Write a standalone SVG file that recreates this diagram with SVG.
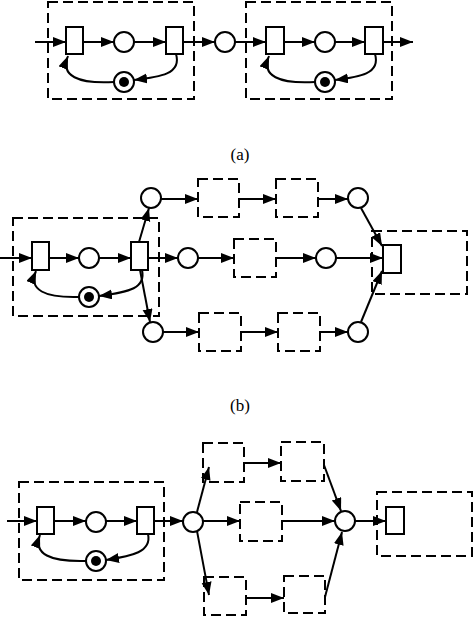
<svg xmlns="http://www.w3.org/2000/svg" width="474" height="617" viewBox="0 0 474 617">
<style>
.dash{fill:none;stroke:#000;stroke-width:2;stroke-dasharray:10 5}
.tr{fill:#fff;stroke:#000;stroke-width:2}
.pl{fill:#fff;stroke:#000;stroke-width:2}
.tok{fill:#000}
.arc{fill:none;stroke:#000;stroke-width:2;marker-end:url(#ah)}
.lbl{font-family:"Liberation Serif","Times New Roman",serif;font-size:17px;fill:#000;text-anchor:middle}
</style>
<defs>
<marker id="ah" markerUnits="userSpaceOnUse" markerWidth="15" markerHeight="11" refX="13" refY="5" orient="auto">
<path d="M0,0 L13,5 L0,10 z" fill="#000"/>
</marker>
</defs>
<rect x="0" y="0" width="474" height="617" fill="#fff"/>

<!-- (a) -->
<g id="a-box1"><rect class="dash" x="48" y="2" width="146" height="97"/></g>
<g id="a-t1"><rect class="tr" x="66" y="27" width="17" height="27"/></g>
<g id="a-p1"><circle class="pl" cx="124" cy="42" r="10"/></g>
<g id="a-t2"><rect class="tr" x="166" y="27" width="17" height="27"/></g>
<g id="a-r1"><circle class="pl" cx="124" cy="82" r="10"/><circle class="tok" cx="124" cy="82" r="5"/></g>
<g id="a-pm"><circle class="pl" cx="225" cy="42" r="10"/></g>
<g id="a-box2"><rect class="dash" x="246" y="2" width="146" height="97"/></g>
<g id="a-t3"><rect class="tr" x="266" y="27" width="18" height="27"/></g>
<g id="a-p2"><circle class="pl" cx="325" cy="42" r="10"/></g>
<g id="a-t4"><rect class="tr" x="365" y="27" width="18" height="27"/></g>
<g id="a-r2"><circle class="pl" cx="325" cy="82" r="10"/><circle class="tok" cx="325" cy="82" r="5"/></g>
<text class="lbl" x="240" y="160">(a)</text>

<!-- (b) -->
<g id="b-box1"><rect class="dash" x="13" y="218" width="146" height="98"/></g>
<g id="b-t1"><rect class="tr" x="32" y="242" width="17" height="28"/></g>
<g id="b-p1"><circle class="pl" cx="89" cy="258" r="10"/></g>
<g id="b-t2"><rect class="tr" x="131" y="242" width="17" height="28"/></g>
<g id="b-r1"><circle class="pl" cx="89" cy="297" r="10"/><circle class="tok" cx="89" cy="297" r="5"/></g>
<g id="b-pt1"><circle class="pl" cx="151" cy="198" r="10"/></g>
<g id="b-bt1"><rect class="dash" x="198" y="179" width="41" height="38"/></g>
<g id="b-bt2"><rect class="dash" x="276" y="179" width="42" height="38"/></g>
<g id="b-pt2"><circle class="pl" cx="358" cy="198" r="10"/></g>
<g id="b-pm1"><circle class="pl" cx="188" cy="258" r="10"/></g>
<g id="b-bm"><rect class="dash" x="234" y="239" width="42" height="38"/></g>
<g id="b-pm2"><circle class="pl" cx="326" cy="258" r="10"/></g>
<g id="b-pb1"><circle class="pl" cx="153" cy="332" r="10"/></g>
<g id="b-bb1"><rect class="dash" x="199" y="313" width="42" height="38"/></g>
<g id="b-bb2"><rect class="dash" x="278" y="313" width="42" height="38"/></g>
<g id="b-pb2"><circle class="pl" cx="358" cy="332" r="10"/></g>
<g id="b-box2"><rect class="dash" x="372" y="231" width="95" height="63"/></g>
<g id="b-t3"><rect class="tr" x="383" y="245" width="18" height="28"/></g>
<text class="lbl" x="240" y="411">(b)</text>

<!-- (c) -->
<g id="c-box1"><rect class="dash" x="19" y="482" width="145" height="98"/></g>
<g id="c-t1"><rect class="tr" x="37" y="507" width="17" height="27"/></g>
<g id="c-p1"><circle class="pl" cx="96" cy="522" r="10"/></g>
<g id="c-t2"><rect class="tr" x="137" y="507" width="17" height="27"/></g>
<g id="c-r1"><circle class="pl" cx="96" cy="561" r="10"/><circle class="tok" cx="96" cy="561" r="5"/></g>
<g id="c-fork"><circle class="pl" cx="193" cy="522" r="10"/></g>
<g id="c-bt1"><rect class="dash" x="203" y="443" width="41" height="39"/></g>
<g id="c-bt2"><rect class="dash" x="281" y="442" width="43" height="39"/></g>
<g id="c-bm"><rect class="dash" x="240" y="502" width="42" height="39"/></g>
<g id="c-bb1"><rect class="dash" x="204" y="577" width="42" height="38"/></g>
<g id="c-bb2"><rect class="dash" x="284" y="576" width="41" height="37"/></g>
<g id="c-join"><circle class="pl" cx="345" cy="521" r="10"/></g>
<g id="c-box2"><rect class="dash" x="377" y="492" width="95" height="64"/></g>
<g id="c-t3"><rect class="tr" x="386" y="507" width="18" height="27"/></g>

<g id="connectors">
<!-- a -->
<path class="arc" d="M35 42 H66"/>
<path class="arc" d="M83 42 H114"/>
<path class="arc" d="M134 42 H166"/>
<path class="arc" d="M183 42 H215"/>
<path class="arc" d="M235 42 H266"/>
<path class="arc" d="M284 42 H315"/>
<path class="arc" d="M335 42 H365"/>
<path class="arc" d="M383 42 H413"/>
<path class="arc" d="M176 54 C182 74 160 77 134 80"/>
<path class="arc" d="M114 82 C78 84 60 76 68 56"/>
<path class="arc" d="M375 54 C381 74 359 77 335 80"/>
<path class="arc" d="M315 82 C279 84 261 76 269 56"/>
<!-- b -->
<path class="arc" d="M0 258 H32"/>
<path class="arc" d="M49 258 H79"/>
<path class="arc" d="M99 258 H131"/>
<path class="arc" d="M148 258 H178"/>
<path class="arc" d="M139 242 L149 208"/>
<path class="arc" d="M140 270 L150 322"/>
<path class="arc" d="M142 270 C146 288 130 292 99 296"/>
<path class="arc" d="M79 297 C45 298 28 290 36 271"/>
<path class="arc" d="M161 199 H198"/>
<path class="arc" d="M239 199 H276"/>
<path class="arc" d="M318 199 H348"/>
<path class="arc" d="M198 258 H234"/>
<path class="arc" d="M276 258 H316"/>
<path class="arc" d="M336 258 H383"/>
<path class="arc" d="M163 332 H199"/>
<path class="arc" d="M241 332 H278"/>
<path class="arc" d="M320 332 H348"/>
<path class="arc" d="M361 208 L382 246"/>
<path class="arc" d="M361 322 L382 271"/>
<!-- c -->
<path class="arc" d="M7 521 H37"/>
<path class="arc" d="M54 521 H86"/>
<path class="arc" d="M106 521 H137"/>
<path class="arc" d="M154 521 H183"/>
<path class="arc" d="M148 534 C152 552 132 556 106 560"/>
<path class="arc" d="M86 561 C50 562 33 554 40 535"/>
<path class="arc" d="M197 512 L209 467"/>
<path class="arc" d="M197 531 L209 595"/>
<path class="arc" d="M203 521 H240"/>
<path class="arc" d="M244 463 H281"/>
<path class="arc" d="M246 598 H284"/>
<path class="arc" d="M324 465 L341 511"/>
<path class="arc" d="M325 597 L342 532"/>
<path class="arc" d="M282 521 H335"/>
<path class="arc" d="M355 521 H386"/>
</g>
</svg>
